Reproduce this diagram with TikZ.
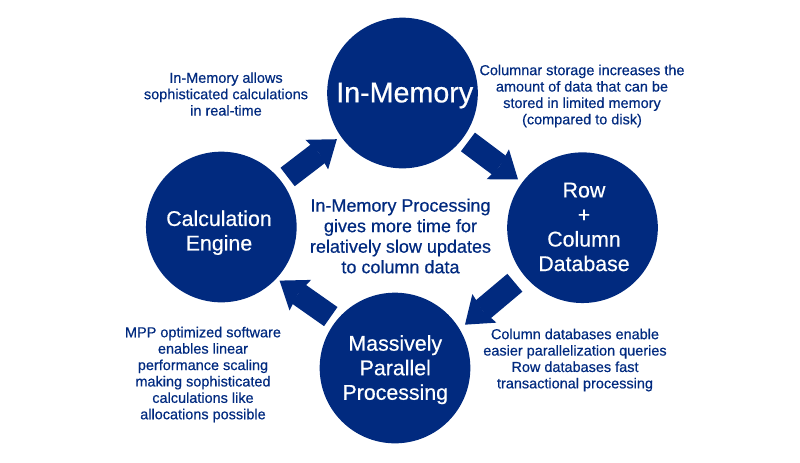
\documentclass[tikz,border=0pt]{standalone}
\usepackage{fontspec}
\setmainfont{Liberation Sans}[FakeBold=0.5]
\usetikzlibrary{arrows.meta}
\definecolor{sapblue}{HTML}{012A7F}
\tikzset{every picture/.style={line width=0.75pt}}
\tikzset{
  bigcircle/.style={circle,fill=sapblue,minimum size=113pt,inner sep=0pt,outer sep=0pt},
  circletext/.style={text=white,align=center,inner sep=0pt,font=\fontsize{16}{18.4}\selectfont},
  notetext/.style={text=sapblue,align=center,inner sep=0pt,font=\fontsize{10.85}{12.3}\selectfont},
  bigarrow/.style={draw=sapblue,line width=17.5pt,-{Stealth[length=19pt,width=28pt,inset=2pt,line width=0pt]}},
}

\begin{document}
\begin{tikzpicture}[x=0.75pt,y=0.75pt,yscale=-1,xscale=1]
\useasboundingbox (0,0) rectangle (800,462);

% Circles
\node (inmem) [bigcircle] at (402.5,93) {};
\node (rowcol) [bigcircle] at (582.5,227.7) {};
\node (mpp) [bigcircle] at (395,368) {};
\node (calc) [bigcircle] at (221.3,227) {};

% Arrows
\draw [bigarrow,shorten <=4.8pt,shorten >=3.9pt] (inmem) -- (rowcol);
\draw [bigarrow,shorten <=8.9pt,shorten >=5.3pt] (rowcol.219.8) -- (mpp.31.6);
\draw [bigarrow,shorten <=5.2pt,shorten >=2.9pt] (mpp.141.3) -- (calc.-43);
\draw [bigarrow,shorten <=5.8pt,shorten >=3.7pt] (calc.37.4) -- (inmem.-145.5);

% Text Node
\node (inmemtext) [circletext,font=\fontsize{21.5}{24}\selectfont] at (404.7,95.5) {In-Memory};
% Text Node
\node (rowcoltext) [circletext] at (584,227) {Row\\+\\Column\\Database};
% Text Node
\node (mpptext) [circletext] at (395.3,369.7) {Massively\\Parallel\\Processing};
% Text Node
\node (calctext) [circletext] at (219,232.7) {Calculation\\Engine};
% Text Node
\node (noteinmem) [notetext] at (226,94) {In-Memory allows\\sophisticated calculations\\in real-time};
% Text Node
\node (notecol) [notetext] at (582,96) {Columnar storage increases the\\amount of data that can be\\stored in limited memory\\(compared to disk)};
% Text Node
\node (noterow) [notetext] at (575,360) {Column databases enable\\easier parallelization queries\\Row databases fast\\transactional processing};
% Text Node
\node (notempp) [notetext] at (203,374.5) {MPP optimized software\\enables linear\\performance scaling\\making sophisticated\\calculations like\\allocations possible};
% Text Node
\node (center) [text=sapblue,align=center,inner sep=0pt,font=\fontsize{13.5}{15.4}\selectfont] at (400.5,236) {In-Memory Processing\\gives more time for\\relatively slow updates\\to column data};

\end{tikzpicture}
\end{document}
